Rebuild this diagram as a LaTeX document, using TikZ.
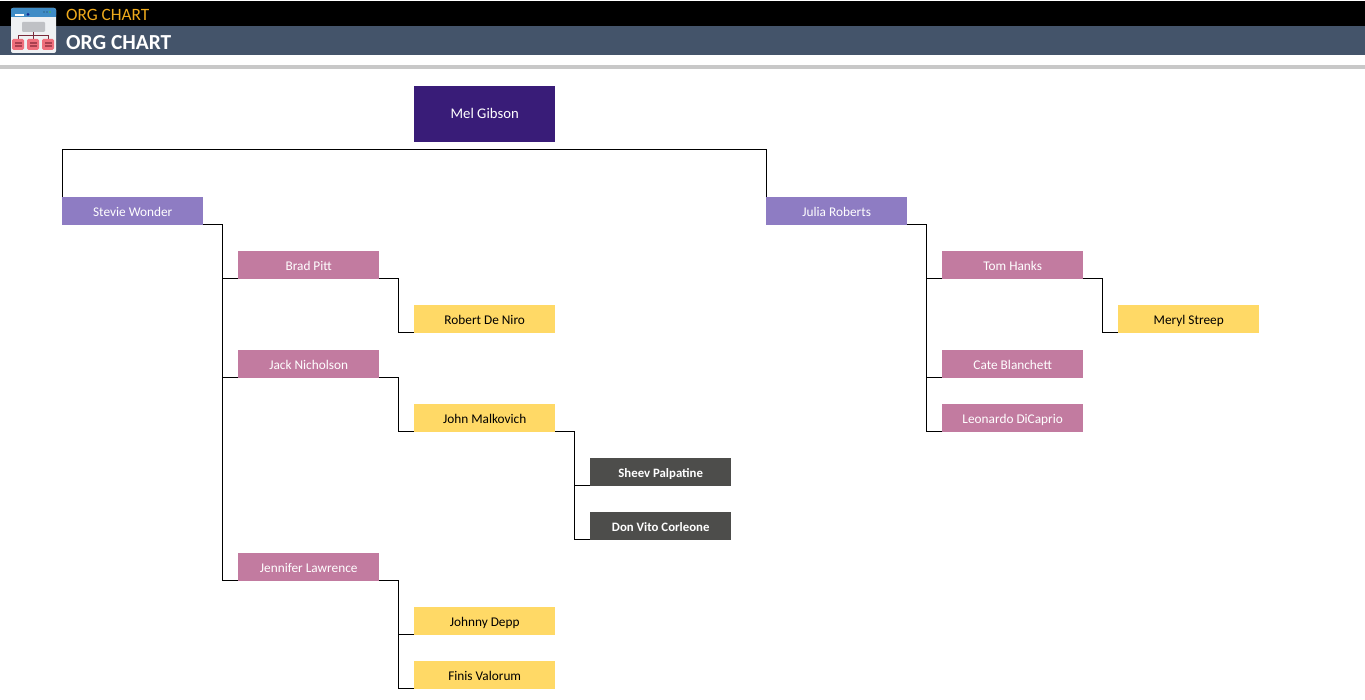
\documentclass[tikz,border=0pt]{standalone}
\usepackage{fontspec}
\setmainfont{Carlito}
\definecolor{topc}{HTML}{391C78}
\definecolor{lvla}{HTML}{8E7CC3}
\definecolor{lvlb}{HTML}{C27BA0}
\definecolor{lvlc}{HTML}{FFD966}
\definecolor{lvld}{HTML}{4D4D4B}
\definecolor{slate}{HTML}{44546A}
\definecolor{gold}{HTML}{F0AB1C}
\definecolor{rulegray}{HTML}{C8C8C8}
\definecolor{iconblue}{HTML}{3F8CC6}
\definecolor{iconbody}{HTML}{EFF1F3}
\definecolor{icongray}{HTML}{BFC1C5}
\definecolor{iconred}{HTML}{EF6F7C}
\definecolor{icondark}{HTML}{A9404F}
\definecolor{iconline}{HTML}{7A2A3A}
\tikzset{
  x=1pt,y=-1pt,
  person/.style={anchor=north west,inner sep=0pt,minimum width=141pt,minimum height=28pt,text height=13pt,text depth=3pt,font=\fontsize{13.3}{15}\selectfont},
  pa/.style={person,fill=lvla,text=white},
  pb/.style={person,fill=lvlb,text=white},
  pc/.style={person,fill=lvlc,text=black},
  pd/.style={person,fill=lvld,text=white,font=\fontsize{12.8}{15}\selectfont\bfseries},
  link/.style={draw=black,line width=0.9pt},
}
\begin{document}
\begin{tikzpicture}
\useasboundingbox (0,0) rectangle (1365,700);
% header
\fill[black] (0,1) rectangle (1365,26);
\fill[slate] (0,26) rectangle (1365,55.5);
\fill[rulegray] (0,65) rectangle (1365,69);
\node[anchor=west,inner sep=0pt,text=gold,font=\fontsize{17.3}{19}\selectfont] (t1) at (66,14.5) {ORG CHART};
\node[anchor=west,inner sep=0pt,text=white,font=\fontsize{21.4}{23}\selectfont\bfseries] (t2) at (66,42.5) {ORG CHART};
% icon
\fill[rounded corners=2pt,fill=iconbody] (11,8) rectangle (56,53);
\fill[iconblue,rounded corners=2pt] (11,8) rectangle (56,17);
\fill[iconblue] (11,13) rectangle (56,17.5);
\fill[white] (15,14.5) rectangle (24,16);
\fill[blue!50!black!70!iconblue] (28,14.5) circle (1.5);
\fill[black!30!iconblue] (44,12) circle (0.9) (47,12) circle (0.9);
\fill[green!50!gray] (50,12) circle (0.9);
\fill[rounded corners=1pt,fill=icongray] (22,22) rectangle (45,32);
\draw[iconline,line width=0.8pt] (33.5,32) -- (33.5,39) (18,39) -- (18,35.5) -- (48,35.5) -- (48,39);
\foreach \cx in {18,33,48}{
  \fill[rounded corners=1.5pt,fill=iconred] (\cx-6,39) rectangle (\cx+6,50);
  \fill[icondark] (\cx-3.5,42.5) rectangle (\cx+3.5,44);
  \fill[icondark] (\cx-3.5,45.5) rectangle (\cx+3.5,47);
}
% nodes
\node[person,fill=topc,text=white,minimum height=56pt,text height=14pt,text depth=6pt,font=\fontsize{14.7}{16}\selectfont] (mel) at (414,86) {Mel Gibson};
\node[pa] (stevie) at (62,197) {Stevie Wonder};
\node[pa] (julia) at (766,197) {Julia Roberts};
\node[pb] (brad) at (238,251) {Brad Pitt};
\node[pb] (jack) at (238,350) {Jack Nicholson};
\node[pb] (jen) at (238,553) {Jennifer Lawrence};
\node[pb] (tom) at (942,251) {Tom Hanks};
\node[pb] (cate) at (942,350) {Cate Blanchett};
\node[pb] (leo) at (942,404) {Leonardo DiCaprio};
\node[pc] (deniro) at (414,305) {Robert De Niro};
\node[pc] (malk) at (414,404) {John Malkovich};
\node[pc] (depp) at (414,607) {Johnny Depp};
\node[pc] (finis) at (414,661) {Finis Valorum};
\node[pc] (meryl) at (1118,305) {Meryl Streep};
\node[pd] (sheev) at (590,458) {Sheev Palpatine};
\node[pd] (vito) at (590,512) {Don Vito Corleone};
% connectors
\draw[link] (stevie.north west) -- ++(0,-47.5) -| (julia.north west);
\foreach \a/\b in {stevie/brad,stevie/jack,stevie/jen,brad/deniro,jack/malk,jen/depp,jen/finis,malk/sheev,malk/vito,julia/tom,julia/cate,julia/leo,tom/meryl}{
  \draw[link] ([yshift=0.6pt]\a.south east) -- ++(19.5,0) |- ([yshift=0.6pt]\b.south west);
}
\end{tikzpicture}
\end{document}
